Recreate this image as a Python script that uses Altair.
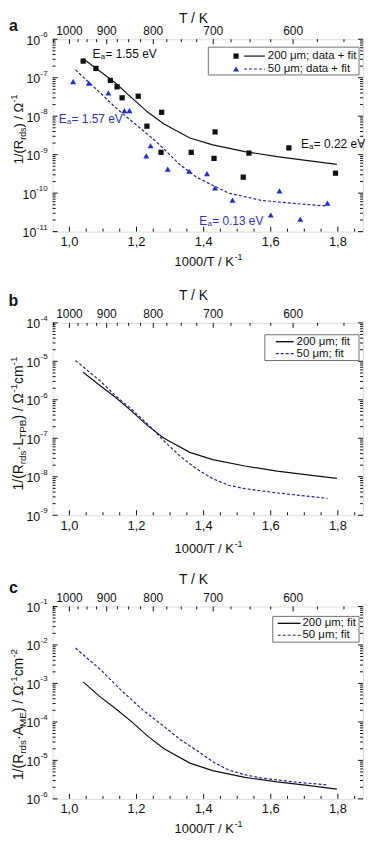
import altair as alt
import pandas as pd

FONT = "Liberation Sans"
INK = "#111111"
BLUE_PT = "#1f2fd0"
BLUE_LN = "#23239a"
BLUE_TX = "#3232b8"

# ---------------- data ----------------
# panel a : measured points
a_sq_x = [1.041, 1.079, 1.122, 1.142, 1.157, 1.205, 1.231, 1.275, 1.273, 1.363, 1.431, 1.434, 1.518, 1.535, 1.654, 1.793]
a_sq_y = [2.7e-7, 1.75e-7, 8.5e-8, 5.8e-8, 3.0e-8, 3.3e-8, 5.5e-9, 1.26e-8, 1.15e-9, 1.15e-9, 8.0e-10, 3.9e-9, 2.6e-10, 1.1e-9, 1.5e-9, 3.3e-10]
a_tri_x = [1.011, 1.058, 1.116, 1.164, 1.179, 1.229, 1.242, 1.293, 1.357, 1.410, 1.434, 1.486, 1.600, 1.626, 1.688, 1.769]
a_tri_y = [7.9e-8, 7.2e-8, 4.0e-8, 1.4e-8, 1.4e-8, 9.3e-10, 1.7e-9, 4.2e-10, 3.7e-10, 3.2e-10, 1.36e-10, 6.6e-11, 2.7e-11, 1.14e-10, 2.1e-11, 5.5e-11]

# fit curves
k200_x = [1.041, 1.09, 1.138, 1.186, 1.234, 1.282, 1.359, 1.427, 1.523, 1.619, 1.716, 1.797]
a200_y = [3.1e-7, 1.5e-7, 7.2e-8, 3.0e-8, 1.26e-8, 6.3e-9, 2.7e-9, 1.8e-9, 1.2e-9, 8.9e-10, 6.9e-10, 5.6e-10]
b200_y = [5.2e-6, 2.4e-6, 1.15e-6, 5.0e-7, 2.1e-7, 1.0e-7, 4.3e-8, 2.8e-8, 1.9e-8, 1.4e-8, 1.1e-8, 9.1e-9]
c200_y = [1.1e-3, 4.6e-4, 2.2e-4, 1.0e-4, 4.2e-5, 2.0e-5, 8.5e-6, 5.4e-6, 3.6e-6, 2.75e-6, 2.2e-6, 1.8e-6]

a50_x = [1.018, 1.09, 1.138, 1.186, 1.253, 1.282, 1.33, 1.379, 1.427, 1.475, 1.571, 1.668, 1.769]
a50_y = [1.6e-7, 4.2e-8, 1.66e-8, 7.4e-9, 2.4e-9, 1.4e-9, 5.4e-10, 2.6e-10, 1.6e-10, 1.0e-10, 6.5e-11, 5.4e-11, 4.6e-11]
b50_x = [1.018, 1.09, 1.138, 1.186, 1.244, 1.282, 1.33, 1.379, 1.427, 1.475, 1.523, 1.619, 1.769]
b50_y = [1.05e-5, 3.2e-6, 1.26e-6, 5.6e-7, 1.9e-7, 8.5e-8, 3.4e-8, 1.6e-8, 8.9e-9, 6.0e-9, 4.9e-9, 3.8e-9, 2.75e-9]
c50_x = [1.018, 1.09, 1.157, 1.22, 1.282, 1.33, 1.38, 1.43, 1.475, 1.52, 1.57, 1.67, 1.77]
c50_y = [8.3e-3, 2.4e-3, 6.3e-4, 2.0e-4, 7.6e-5, 3.5e-5, 1.8e-5, 8.9e-6, 5.6e-6, 4.3e-6, 3.5e-6, 2.75e-6, 2.3e-6]

# axis ticks
x_major = [1.0, 1.2, 1.4, 1.6, 1.8]
x_minor = [1.05, 1.1, 1.15, 1.25, 1.3, 1.35, 1.45, 1.5, 1.55, 1.65, 1.7, 1.75, 1.85]
t_major = [1000, 900, 800, 700, 600]
t_minor = [1050, 975, 950, 925, 875, 850, 825, 775, 750, 725, 675, 650, 625, 575, 550]
dec_a = [-11, -10, -9, -8, -7, -6]
dec_b = [-9, -8, -7, -6, -5, -4]
dec_c = [-6, -5, -4, -3, -2, -1]

# ---------------- layout helpers ----------------
W, H = 313, 194
XDOM = [0.95, 1.875]

AW = {'0': 556, '1': 556, '2': 556, '3': 556, '4': 556, '5': 556, '6': 556, '7': 556, '8': 556,
      '9': 556, '/': 278, '(': 333, ')': 333, ' ': 278, 'R': 722, 'r': 333, 'd': 556, 's': 500,
      'Ω': 768, '-': 333, 'c': 500, 'm': 833, 'L': 556, 'T': 611, 'P': 667, 'B': 667, 'A': 667,
      'M': 833, 'E': 667, '·': 278, 'K': 667}


def tw(s, size):
    return sum(AW.get(ch, 556) for ch in s) * size / 1000.0


def xsc():
    return alt.Scale(domain=XDOM, nice=False, zero=False)


def one(text):
    return pd.DataFrame({'t': [text]})


def label(text, x, y, size=12, color=INK, align='left', baseline='middle', angle=0, weight='normal', dy=0):
    kw = dict(align=align, baseline=baseline, fontSize=size, font=FONT, color=color, fontWeight=weight)
    if angle:
        kw['angle'] = angle
    if dy:
        kw['dy'] = dy
    return alt.Chart(one(text)).mark_text(**kw).encode(text='t:N', x=alt.value(x), y=alt.value(y))


def ytitle(pieces, x0, y0):
    out = []
    off = 0.0
    for text, size, shift in pieces:
        out.append(label(text, x0 + shift, y0 - off, size=size, align='left',
                         baseline='alphabetic', angle=270))
        off += tw(text, size)
    return out


def ea_note(val, x, y, ysc, color):
    df = pd.DataFrame({'x': [x], 'y': [y]})
    enc = dict(x=alt.X('x:Q', scale=xsc(), axis=None), y=alt.Y('y:Q', scale=ysc, axis=None))
    base = alt.Chart(df)
    return [
        base.mark_text(text='E', align='left', baseline='middle', fontSize=12, font=FONT, color=color).encode(**enc),
        base.mark_text(text='a', align='left', baseline='middle', fontSize=8, font=FONT, color=color, dx=8.2, dy=3).encode(**enc),
        base.mark_text(text='= ' + val + ' eV', align='left', baseline='middle', fontSize=12, font=FONT, color=color, dx=13).encode(**enc),
    ]


def legend(box, rows):
    x1, x2, y1, y2 = box
    out = [alt.Chart(one('')).mark_rect(fill='white', stroke='#707070', strokeWidth=1).encode(
        x=alt.value(x1), x2=alt.value(x2), y=alt.value(y1), y2=alt.value(y2))]
    for r in rows:
        yy = r['y']
        if r.get('shape'):
            out.append(alt.Chart(one('')).mark_point(shape=r['shape'], filled=True, size=r['size'], color=r['pcolor'], opacity=1).encode(
                x=alt.value(r['px']), y=alt.value(yy)))
        rule_kw = dict(color=r['lcolor'], strokeWidth=r['lw'])
        if r.get('dash'):
            rule_kw['strokeDash'] = r['dash']
        out.append(alt.Chart(one('')).mark_rule(**rule_kw).encode(
            x=alt.value(r['l1']), x2=alt.value(r['l2']), y=alt.value(yy)))
        out.append(label(r['text'], r['tx'], yy, size=11.5))
    return out


def panel(letter, letter_y, decs, data_layers, extra_layers, tpieces, t_y, tk_y, xl_y, xt_y):
    ysc = alt.Scale(type='log', domain=[10.0 ** decs[0], 10.0 ** decs[-1]], nice=False)
    minors = [k * 10.0 ** d for d in decs[:-1] for k in range(2, 10)]
    majors = [10.0 ** d for d in decs]
    xv = lambda: alt.X('v:Q', scale=xsc(), axis=None)
    layers = []
    # bottom scale: inward ticks + labels
    layers.append(alt.Chart(pd.DataFrame({'v': x_major})).mark_rule(color=INK).encode(
        x=xv(), y=alt.value(H), y2=alt.value(H - 5)))
    layers.append(alt.Chart(pd.DataFrame({'v': x_minor})).mark_rule(color=INK).encode(
        x=xv(), y=alt.value(H), y2=alt.value(H - 3)))
    layers.append(alt.Chart(pd.DataFrame({'v': x_major})).transform_calculate(
        lab="replace(format(datum.v, '.1f'), '.', ',')").mark_text(
        align='center', baseline='middle', fontSize=13, font=FONT, color=INK).encode(
        x=xv(), y=alt.value(H + xl_y), text='lab:N'))
    x0 = 157 - (tw('1000/T / K', 13) + tw('-1', 9)) / 2
    layers.append(label('1000/T / K', x0, H + xt_y, size=13))
    layers.append(label('-1', x0 + tw('1000/T / K', 13) + 0.5, H + xt_y, size=9, dy=-5))
    # top temperature scale: ticks and labels through the x scale
    layers.append(alt.Chart(pd.DataFrame({'T': t_major})).transform_calculate(v='1000 / datum.T').mark_rule(color=INK).encode(
        x=xv(), y=alt.value(0), y2=alt.value(5)))
    layers.append(alt.Chart(pd.DataFrame({'T': t_minor})).transform_calculate(v='1000 / datum.T').mark_rule(color=INK).encode(
        x=xv(), y=alt.value(0), y2=alt.value(3)))
    layers.append(alt.Chart(pd.DataFrame({'T': t_major})).transform_calculate(v='1000 / datum.T').mark_text(
        align='center', baseline='middle', fontSize=12, font=FONT, color=INK).encode(
        x=xv(), y=alt.value(-8.5), text='T:N'))
    layers.append(label('T / K', 142, tk_y, size=14, align='center'))
    # left / right log ticks
    for xa, sgn in [(0, 1), (W, -1)]:
        layers.append(alt.Chart(pd.DataFrame({'v': majors})).mark_rule(color=INK).encode(
            y=alt.Y('v:Q', scale=ysc, axis=None), x=alt.value(xa), x2=alt.value(xa + sgn * 5)))
        layers.append(alt.Chart(pd.DataFrame({'v': minors})).mark_rule(color=INK).encode(
            y=alt.Y('v:Q', scale=ysc, axis=None), x=alt.value(xa), x2=alt.value(xa + sgn * 3)))
    # y tick labels: "10" + raised exponent
    ldf = pd.DataFrame({'v': majors, 'e': [str(d) for d in decs]})
    for n, xr in [(2, -12.5), (3, -16.5)]:
        sub = ldf[ldf.e.str.len() == n]
        if len(sub):
            layers.append(alt.Chart(sub).mark_text(text='10', align='right', baseline='middle', fontSize=12.5,
                                                   font=FONT, color=INK, dy=1.5).encode(
                y=alt.Y('v:Q', scale=ysc, axis=None), x=alt.value(xr)))
    layers.append(alt.Chart(ldf).mark_text(align='right', baseline='middle', fontSize=8, font=FONT,
                                           color=INK, dy=-4).encode(
        y=alt.Y('v:Q', scale=ysc, axis=None), x=alt.value(-5), text='e:N'))
    # data
    for f in data_layers:
        layers.append(f(ysc))
    for f in extra_layers:
        layers.extend(f(ysc))
    layers.extend(ytitle(tpieces, -30, t_y))
    layers.append(label(letter, -39.5, letter_y, size=16, weight='bold', align='center'))
    return alt.layer(*layers).properties(width=W, height=H)


def pts(xv, yv, shape, color, size):
    df = pd.DataFrame({'x': xv, 'y': yv})
    return lambda ysc: alt.Chart(df).mark_point(shape=shape, filled=True, size=size, color=color, opacity=1).encode(
        x=alt.X('x:Q', scale=xsc(), axis=None), y=alt.Y('y:Q', scale=ysc, axis=None))


def line(xv, yv, color, dash=None, width=1.2):
    df = pd.DataFrame({'x': xv, 'y': yv})
    kw = dict(color=color, strokeWidth=width)
    if dash:
        kw['strokeDash'] = dash
    return lambda ysc: alt.Chart(df).mark_line(**kw).encode(
        x=alt.X('x:Q', scale=xsc(), axis=None), y=alt.Y('y:Q', scale=ysc, axis=None))


DASH = [3, 2]

leg_a = lambda ysc: legend((W - 156, W - 4, 8, 36), [
    dict(y=17, shape='square', size=28, pcolor=INK, px=W - 128, l1=W - 120, l2=W - 99, lcolor=INK, lw=1.2,
         tx=W - 96, text='200 μm; data + fit'),
    dict(y=30, shape='triangle-up', size=36, pcolor=BLUE_PT, px=W - 128, l1=W - 120, l2=W - 99,
         lcolor=BLUE_LN, lw=1.2, dash=DASH, tx=W - 96, text='50 μm; data + fit')])

leg_b = lambda ysc: legend((W - 99, W - 4, 12, 38), [
    dict(y=19, l1=W - 88, l2=W - 70, lcolor=INK, lw=1.4, tx=W - 67, text='200 μm; fit'),
    dict(y=31, l1=W - 88, l2=W - 70, lcolor=BLUE_LN, lw=1.2, dash=DASH, tx=W - 67, text='50 μm; fit')])

leg_c = lambda ysc: legend((W - 91, W - 4, 10, 36), [
    dict(y=17, l1=W - 86, l2=W - 63, lcolor=INK, lw=1.4, tx=W - 61, text='200 μm; fit'),
    dict(y=29, l1=W - 86, l2=W - 63, lcolor=BLUE_LN, lw=1.2, dash=DASH, tx=W - 61, text='50 μm; fit')])

notes_a = lambda ysc: (ea_note('1.55', 1.069, 4.2e-7, ysc, INK) + ea_note('1.57', 0.968, 8.3e-9, ysc, BLUE_TX)
                       + ea_note('0.22', 1.690, 1.9e-9, ysc, INK) + ea_note('0.13', 1.387, 1.9e-11, ysc, BLUE_TX))

pa = panel('a', -13, dec_a,
           [line(k200_x, a200_y, INK), line(a50_x, a50_y, BLUE_LN, DASH),
            pts(a_sq_x, a_sq_y, 'square', INK, 28), pts(a_tri_x, a_tri_y, 'triangle-up', BLUE_PT, 36)],
           [leg_a, notes_a],
           [("1/(R", 13, 0), ("rds", 9, 3), (") / Ω", 13, 0), ("-1", 9, -5.5)], 126, -20, 11, 31)

pb = panel('b', -22, dec_b,
           [line(k200_x, b200_y, INK), line(b50_x, b50_y, BLUE_LN, DASH)],
           [leg_b],
           [("1/(R", 14, 0), ("rds", 10, 3), ("·L", 14, 0), ("TPB", 10, 3), (") / Ω", 14, 0),
            ("-1", 10, -6), ("cm", 14, 0), ("-1", 10, -6)], 169, -27, 11, 34)

pc = panel('c', -19, dec_c,
           [line(k200_x, c200_y, INK), line(c50_x, c50_y, BLUE_LN, DASH)],
           [leg_c],
           [("1/(R", 14, 0), ("rds", 10, 3), ("·A", 14, 0), ("ME", 10, 3), (") / Ω", 14, 0),
            ("-1", 10, -6), ("cm", 14, 0), ("-2", 10, -6)], 175, -27, 10, 30)

chart = alt.vconcat(pa, pb, pc, spacing=92, bounds='flush').resolve_scale(
    y='independent').properties(padding=0).configure_view(
    stroke=INK, strokeWidth=1).configure(font=FONT, background='white')

chart.save("out.html", embed_options={"renderer": "svg", "actions": False})
